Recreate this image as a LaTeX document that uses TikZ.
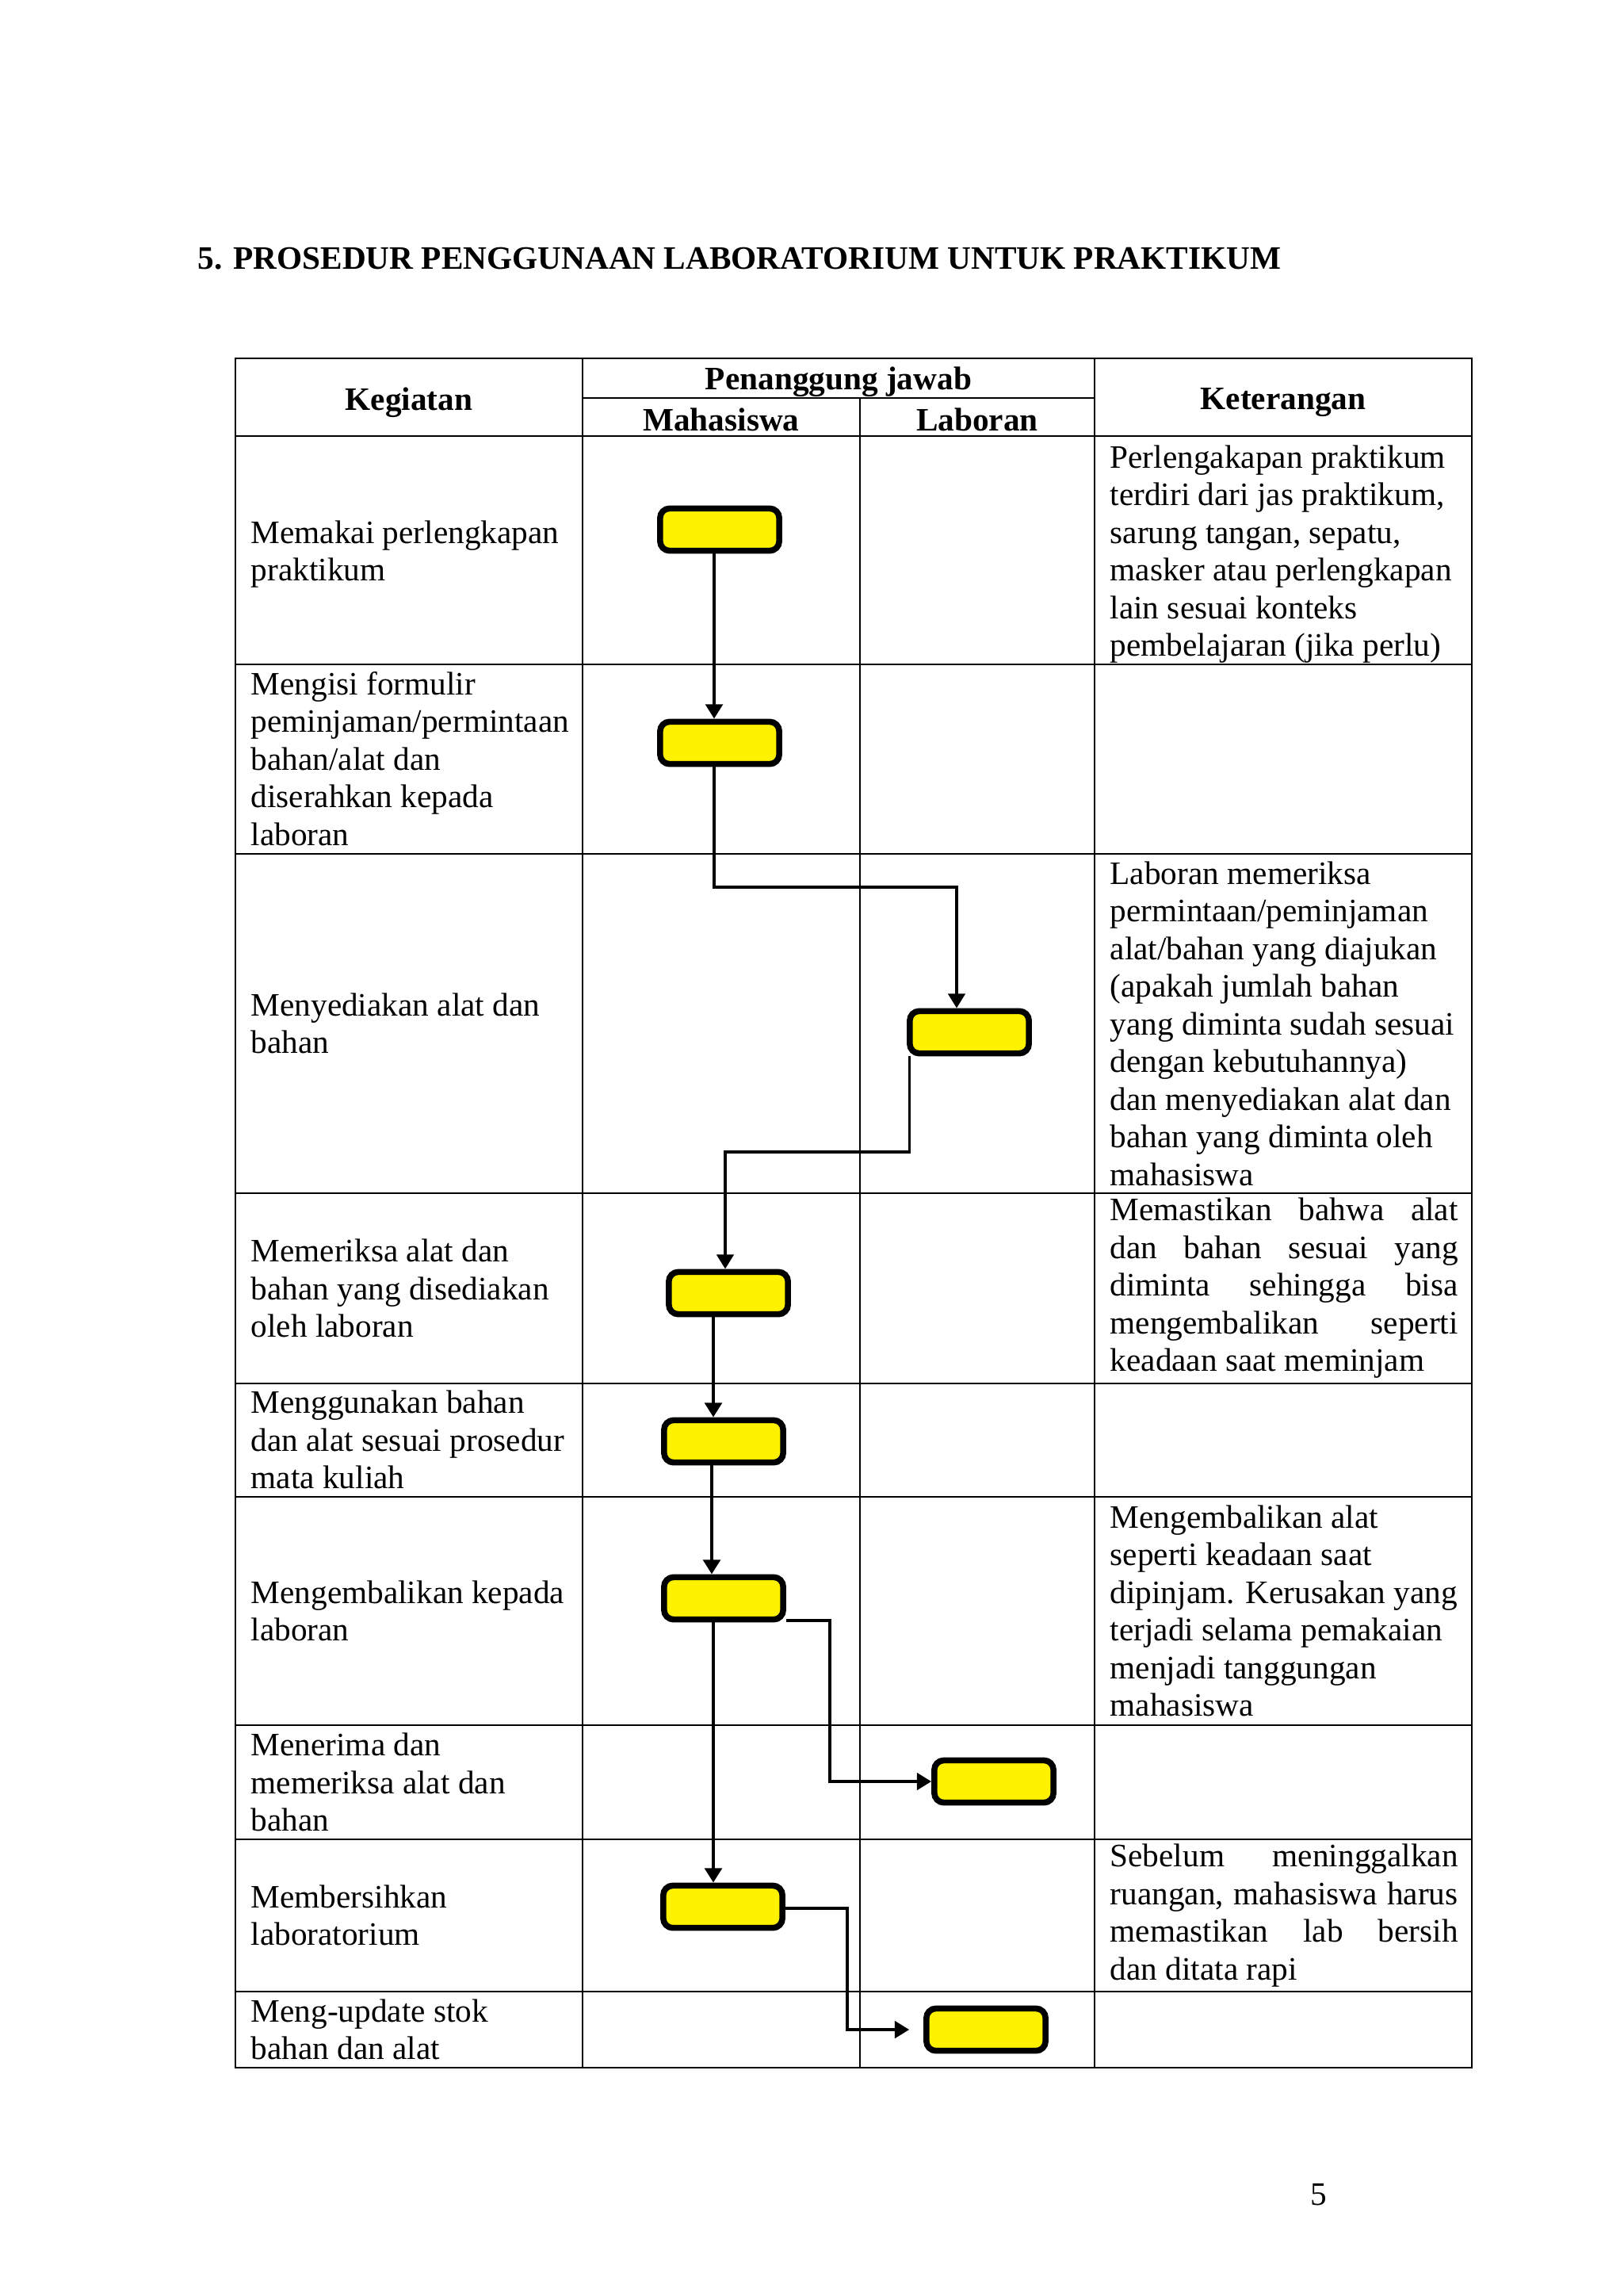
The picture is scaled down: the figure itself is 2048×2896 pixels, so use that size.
\documentclass[tikz,border=0pt]{standalone}
\usepackage{fontspec}
\setmainfont{Liberation Serif}
\usetikzlibrary{arrows.meta}
\tikzset{
  cell/.style={inner sep=0pt, anchor=west, align=left, font=\fontsize{12}{13.8}\selectfont},
  head/.style={inner sep=0pt, font=\bfseries\fontsize{12}{13.8}\selectfont},
  act/.style={draw, line width=2.2pt, fill=yellow, rounded corners=3.5pt, minimum width=43.7pt, minimum height=15.5pt, inner sep=0pt},
  flow/.style={line width=1.4pt, -{Triangle[length=5.3pt,width=6.2pt]}},
  thinflow/.style={line width=1.1pt, -{Triangle[length=5.3pt,width=6.2pt]}},
  gridline/.style={line width=0.6pt}
}
\newcommand{\jl}[1]{\makebox[127.6pt][s]{#1}}
\begin{document}
\begin{tikzpicture}[x=0.29066pt, y=-0.29066pt]
\useasboundingbox (0,0) rectangle (2048,2896);
% title
\node[head, anchor=west] (title) at (249,326) {5. PROSEDUR PENGGUNAAN LABORATORIUM UNTUK PRAKTIKUM};
% table grid
\draw[gridline] (297,452) rectangle (1857,2608);
\draw[gridline] (735,452) -- (735,2608);
\draw[gridline] (1381,452) -- (1381,2608);
\draw[gridline] (1085,502) -- (1085,2608);
\draw[gridline] (735,502) -- (1381,502);
\foreach \yy in {550,838,1077,1505,1745,1888,2176,2320,2512}
  \draw[gridline] (297,\yy) -- (1857,\yy);
% header
\node[head] (hk) at (516,508) {Kegiatan};
\node[head] (hp) at (1058,482) {Penanggung jawab};
\node[head] (hm) at (910,529) {Mahasiswa};
\node[head] (hl) at (1233,529) {Laboran};
\node[head] (hket) at (1619,508) {Keterangan};
% column 1
\node[cell] (r1) at (316,699) {Memakai perlengkapan\\praktikum};
\node[cell] (r2) at (316,957) {Mengisi formulir\\peminjaman/permintaan\\bahan/alat dan\\diserahkan kepada\\laboran};
\node[cell] (r3) at (316,1291) {Menyediakan alat dan\\bahan};
\node[cell] (r4) at (316,1625) {Memeriksa alat dan\\bahan yang disediakan\\oleh laboran};
\node[cell] (r5) at (316,1816) {Menggunakan bahan\\dan alat sesuai prosedur\\mata kuliah};
\node[cell] (r6) at (316,2032) {Mengembalikan kepada\\laboran};
\node[cell] (r7) at (316,2248) {Menerima dan\\memeriksa alat dan\\bahan};
\node[cell] (r8) at (316,2416) {Membersihkan\\laboratorium};
\node[cell] (r9) at (316,2560) {Meng-update stok\\bahan dan alat};
% keterangan
\node[cell] (k1) at (1400,699) {Perlengakapan praktikum\\terdiri dari jas praktikum,\\sarung tangan, sepatu,\\masker atau perlengkapan\\lain sesuai konteks\\pembelajaran (jika perlu)};
\node[cell] (k3) at (1400,1291) {Laboran memeriksa\\permintaan/peminjaman\\alat/bahan yang diajukan\\(apakah jumlah bahan\\yang diminta sudah sesuai\\dengan kebutuhannya)\\dan menyediakan alat dan\\bahan yang diminta oleh\\mahasiswa};
\node[cell] (k4) at (1400,1625) {\jl{Memastikan bahwa alat}\\\jl{dan bahan sesuai yang}\\\jl{diminta sehingga bisa}\\\jl{mengembalikan seperti}\\keadaan saat meminjam};
\node[cell] (k6) at (1400,2032) {Mengembalikan alat\\seperti keadaan saat\\dipinjam. Kerusakan yang\\terjadi selama pemakaian\\menjadi tanggungan\\mahasiswa};
\node[cell] (k8) at (1400,2416) {\jl{Sebelum meninggalkan}\\\jl{ruangan, mahasiswa harus}\\\jl{memastikan lab bersih}\\dan ditata rapi};
% activity boxes
\node[act] (b1) at (908,668) {};
\node[act] (b2) at (908,937) {};
\node[act] (b3) at (1223,1302) {};
\node[act] (b4) at (919,1631) {};
\node[act] (b5) at (913,1818) {};
\node[act] (b6) at (913,2016) {};
\node[act] (b7) at (1254,2247) {};
\node[act] (b8) at (912,2405) {};
\node[act] (b9) at (1244,2560) {};
% connector helpers
\coordinate (v1) at (901,0);
\coordinate (k2) at (1207,1119);
\coordinate (k3c) at (915,1453);
\coordinate (v4) at (900,0);
\coordinate (v5) at (898,0);
\coordinate (v6) at (900,0);
\coordinate (k6c) at (1047,2044);
\coordinate (k8c) at (1069,2407);
% connectors
\draw[flow] (b1.south -| v1) -- (b2.north -| v1);
\draw[thinflow] (b2.south -| v1) |- (k2) -- (k2 |- b3.north);
\draw[thinflow] ([xshift=1pt]b3.south west) |- (k3c) -- (k3c |- b4.north);
\draw[flow] (b4.south -| v4) -- (b5.north -| v4);
\draw[flow] (b5.south -| v5) -- (b6.north -| v5);
\draw[flow] (b6.south -| v6) -- (b8.north -| v6);
\draw[thinflow] (b6.east |- k6c) -- (k6c) |- (b7.west);
\draw[thinflow, shorten >=5.2pt] (b8.east |- k8c) -- (k8c) |- (b9.west);
% page number
\node[cell, anchor=center] (pg) at (1664,2768) {5};
\end{tikzpicture}
\end{document}
